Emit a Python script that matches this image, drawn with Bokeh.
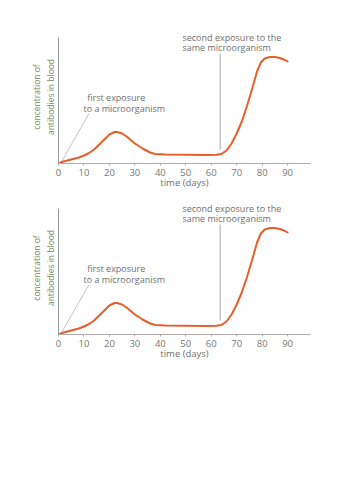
from bokeh.plotting import figure
from bokeh.layouts import column
from bokeh.models import Label, Range1d, FixedTicker
from bokeh.embed import file_html
from bokeh.resources import INLINE

# data: antibody concentration (arbitrary units) vs time (days)
days = [0, 2, 5, 8, 10, 12, 14, 16, 18, 20, 22, 23, 25, 27, 30, 33, 36, 38, 42,
        50, 58, 62, 64, 66, 68, 70, 72, 74, 76, 78, 79.5, 81, 83, 85, 87, 89, 90]
conc = [0, 2, 4, 6, 8, 10.5, 14, 19, 24, 29, 31.5, 31.5, 30, 26.5, 20, 15, 11, 9.5, 9,
        8.7, 8.5, 8.7, 9.5, 13, 20, 30, 42, 57, 74, 92, 101, 105, 106.5, 106.5, 105.5, 103.5, 102]
x_ticks = [0, 10, 20, 30, 40, 50, 60, 70, 80, 90]

first_ptr_x = [1, 12]
first_ptr_y = [1, 50]
second_ptr_x = [63.5, 63.5]
second_ptr_y = [14, 110]

FONT = "Open Sans"
TXT = "#6f6f6f"


def make_chart(height, top):
    p = figure(width=353, height=height, output_backend="svg", toolbar_location=None,
               x_range=Range1d(0, 99), y_range=Range1d(0, 133),
               min_border_left=58, min_border_right=43, min_border_top=top,
               min_border_bottom=30)
    p.outline_line_color = None
    p.xgrid.visible = False
    p.ygrid.visible = False
    p.background_fill_color = "white"
    p.border_fill_color = "white"

    xa = p.xaxis[0]
    xa.ticker = FixedTicker(ticks=x_ticks)
    xa.axis_line_color = "#b5aaaa"
    xa.axis_line_width = 1
    xa.major_tick_line_color = "#b5aaaa"
    xa.major_tick_out = 2
    xa.major_tick_in = 0
    xa.minor_tick_line_color = None
    xa.major_label_standoff = 3
    xa.major_label_text_font = FONT
    xa.major_label_text_font_size = "9.5px"
    xa.major_label_text_color = "#777777"
    xa.axis_label = "time (days)"
    xa.axis_label_standoff = -3
    xa.axis_label_text_font = FONT
    xa.axis_label_text_font_size = "9.5px"
    xa.axis_label_text_font_style = "normal"
    xa.axis_label_text_color = TXT

    ya = p.yaxis[0]
    ya.bounds = (0, 126)
    ya.ticker = FixedTicker(ticks=[])
    ya.axis_line_color = "#9a9a9a"
    ya.major_tick_line_color = None
    ya.minor_tick_line_color = None
    ya.major_label_standoff = 0
    ya.axis_label = "concentration of\nantibodies in blood"
    ya.axis_label_standoff = 3
    ya.axis_label_text_font = FONT
    ya.axis_label_text_font_size = "8.5px"
    ya.axis_label_text_font_style = "normal"
    ya.axis_label_text_color = "#74895c"

    p.line(first_ptr_x, first_ptr_y, line_color="#c4c4c4", line_width=1)
    p.line(second_ptr_x, second_ptr_y, line_color="#a8a8a8", line_width=1)
    p.line(days, conc, line_color="#e65f2b", line_width=2, line_join="round", line_cap="round")

    def lab(x, y, t, **kw):
        opts = dict(text_font=FONT, text_font_size="9px", text_color=TXT,
                    text_baseline="middle", text_align="left")
        opts.update(kw)
        p.add_layout(Label(x=x, y=y, text=t, **opts))

    lab(11.3, 66, "first exposure")
    lab(9.8, 55, "to a microorganism")
    lab(48.7, 126, "second exposure to the")
    lab(48.7, 116, "same microorganism")
    return p


p1 = make_chart(193, 30)
p2 = make_chart(171, 8)
layout = column(p1, p2, spacing=0)

open("out.html", "w").write(file_html(layout, INLINE))
